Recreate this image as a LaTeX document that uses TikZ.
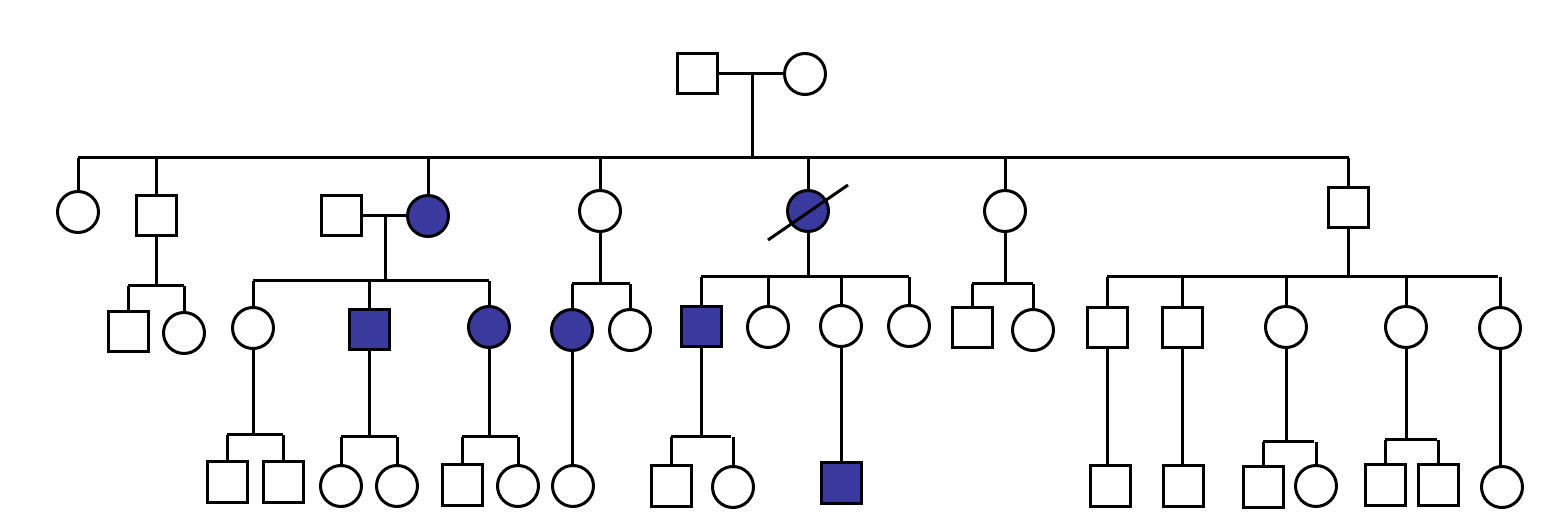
\documentclass[tikz,border=0pt]{standalone}
\begin{document}
\begin{tikzpicture}[x=1pt,y=-1pt,line width=3pt,
  sq/.style={draw,rectangle,minimum size=40pt,inner sep=0pt,fill=white},
  ci/.style={draw,circle,minimum size=41pt,inner sep=0pt,fill=white},
  aff/.style={fill=affblue}]
\definecolor{affblue}{RGB}{58,58,158}
\useasboundingbox (0,0) rectangle (1559,526);
% generation 1
\node[sq] (g1m) at (697,74) {};
\node[ci] (g1f) at (805,74) {};
\draw (g1m.east) -- (g1f.west);
\coordinate (g1d) at (752,74);
\coordinate (s1L) at (78,158); \coordinate (s1R) at (1349,158);
\draw (g1d) -- (g1d |- s1L);
\draw (s1L) -- (s1R);
% generation 2
\node[ci] (a) at (78,212) {};
\node[sq] (b) at (156,216) {};
\node[sq] (csp) at (341,216) {};
\node[ci,aff] (c) at (428,216) {};
\node[ci] (d) at (600,211) {};
\node[ci,aff] (e) at (808,211) {};
\node[ci] (f) at (1005,211) {};
\node[sq] (g) at (1348,208) {};
\foreach \n in {a,b,c,d,e,f,g} \draw (\n.north) -- (\n.north |- s1L);
\draw (csp.east) -- (c.west);
\coordinate (cd) at (385,216);
\coordinate (dslashA) at (768,240); \coordinate (dslashB) at (848,185);
\draw (dslashA) -- (dslashB);
% generation 3
\node[sq] (b1) at (128,332) {}; \node[ci] (b2) at (184,333) {};
\coordinate (sbL) at (128,286); \coordinate (sbR) at (184,286);
\draw (b.south) -- (b.south |- sbL); \draw (sbL) -- (sbR);
\foreach \n in {b1,b2} \draw (\n.north) -- (\n.north |- sbL);

\node[ci] (c1) at (253,328) {}; \node[sq,aff] (c2) at (369,330) {}; \node[ci,aff] (c3) at (489,327) {};
\coordinate (scL) at (253,281); \coordinate (scR) at (489,281);
\draw (cd) -- (cd |- scL); \draw (scL) -- (scR);
\foreach \n in {c1,c2,c3} \draw (\n.north) -- (\n.north |- scL);

\node[ci,aff] (d1) at (572,330) {}; \node[ci] (d2) at (630,330) {};
\coordinate (sdL) at (572,284); \coordinate (sdR) at (630,284);
\draw (d.south) -- (d.south |- sdL); \draw (sdL) -- (sdR);
\foreach \n in {d1,d2} \draw (\n.north) -- (\n.north |- sdL);

\node[sq,aff] (e1) at (701,327) {}; \node[ci] (e2) at (768,327) {}; \node[ci] (e3) at (841,326) {}; \node[ci] (e4) at (909,326) {};
\coordinate (seL) at (701,277); \coordinate (seR) at (909,277);
\draw (e.south) -- (e.south |- seL); \draw (seL) -- (seR);
\foreach \n in {e1,e2,e3,e4} \draw (\n.north) -- (\n.north |- seL);

\node[sq] (f1) at (972,328) {}; \node[ci] (f2) at (1033,330) {};
\coordinate (sfL) at (972,284); \coordinate (sfR) at (1033,284);
\draw (f.south) -- (f.south |- sfL); \draw (sfL) -- (sfR);
\foreach \n in {f1,f2} \draw (\n.north) -- (\n.north |- sfL);

\node[sq] (g1) at (1107,328) {}; \node[sq] (g2) at (1182,328) {}; \node[ci] (g3) at (1286,327) {}; \node[ci] (g4) at (1406,327) {}; \node[ci] (g5) at (1500,328) {};
\coordinate (sgL) at (1107,277); \coordinate (sgR) at (1498,277);
\draw (g.south) -- (g.south |- sgL); \draw (sgL) -- (sgR);
\foreach \n in {g1,g2,g3,g4,g5} \draw (\n.north) -- (\n.north |- sgL);
% generation 4
\node[sq] (c11) at (227,482) {}; \node[sq] (c12) at (283,482) {};
\coordinate (t1L) at (227,435); \coordinate (t1R) at (283,435);
\draw (c1.south) -- (c1.south |- t1L); \draw (t1L) -- (t1R);
\foreach \n in {c11,c12} \draw (\n.north) -- (\n.north |- t1L);

\node[ci] (c21) at (341,486) {}; \node[ci] (c22) at (397,486) {};
\coordinate (t2L) at (341,437); \coordinate (t2R) at (397,437);
\draw (c2.south) -- (c2.south |- t2L); \draw (t2L) -- (t2R);
\foreach \n in {c21,c22} \draw (\n.north) -- (\n.north |- t2L);

\node[sq] (c31) at (462,485) {}; \node[ci] (c32) at (518,486) {};
\coordinate (t3L) at (462,437); \coordinate (t3R) at (518,437);
\draw (c3.south) -- (c3.south |- t3L); \draw (t3L) -- (t3R);
\foreach \n in {c31,c32} \draw (\n.north) -- (\n.north |- t3L);

\node[ci] (d11) at (573,486) {};
\draw (d1.south) -- (d1.south |- d11.north);

\node[sq] (e11) at (671,486) {}; \node[ci] (e12) at (733,487) {};
\coordinate (t4L) at (671,437); \coordinate (t4R) at (731,437);
\draw (e1.south) -- (e1.south |- t4L); \draw (t4L) -- (t4R);
\foreach \n in {e11,e12} \draw (\n.north) -- (\n.north |- t4L);

\node[sq,aff] (e31) at (841,483) {};
\draw (e3.south) -- (e31.north);

\node[sq] (g11) at (1110,486) {}; \draw (g1.south) -- (g1.south |- g11.north);
\node[sq] (g21) at (1183,486) {}; \draw (g2.south) -- (g2.south |- g21.north);

\node[sq] (g31) at (1263,487) {}; \node[ci] (g32) at (1316,486) {};
\coordinate (t5L) at (1263,442); \coordinate (t5R) at (1314,442);
\draw (g3.south) -- (g3.south |- t5L); \draw (t5L) -- (t5R);
\foreach \n in {g31,g32} \draw (\n.north) -- (\n.north |- t5L);

\node[sq] (g41) at (1385,485) {}; \node[sq] (g42) at (1438,485) {};
\coordinate (t6L) at (1385,440); \coordinate (t6R) at (1437,440);
\draw (g4.south) -- (g4.south |- t6L); \draw (t6L) -- (t6R);
\foreach \n in {g41,g42} \draw (\n.north) -- (\n.north |- t6L);

\node[ci] (g51) at (1502,487) {}; \draw (g5.south) -- (g5.south |- g51.north);
\end{tikzpicture}
\end{document}
